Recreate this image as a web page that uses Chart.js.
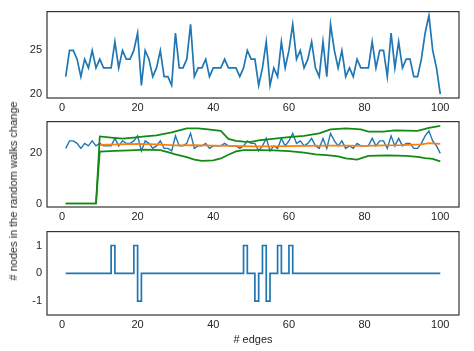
<!DOCTYPE html>
<html>
<head>
<meta charset="utf-8">
<script src="https://cdn.jsdelivr.net/npm/chart.js@4"></script>
<style>
  html, body { margin: 0; background: #fff; }
  #wrap { position: relative; width: 474px; height: 351px; overflow: hidden; font-family: "Liberation Sans", Arial, sans-serif; }
  .panel { position: absolute; left: 0; width: 474px; }
  #ylabel { position: absolute; left: 13px; top: 191px; transform: translate(-50%, -50%) rotate(-90deg);
            white-space: nowrap; font-size: 11px; color: #262626; }
</style>
</head>
<body>
<div id="wrap">
  <div class="panel" style="top:0;height:120px"><canvas id="walks"></canvas></div>
  <div class="panel" style="top:110px;height:120px"><canvas id="bands"></canvas></div>
  <div class="panel" style="top:220px;height:131px"><canvas id="changes"></canvas></div>
  <div id="ylabel"># nodes in the random walks change</div>
</div>
<script>
// x positions: edge index 1..100
const edges = Array.from({ length: 100 }, (_, i) => i + 1);
const xTicks = [0, 20, 40, 60, 80, 100];

// nodes in random walks, per edge
const walkSizes = [
  22, 25, 25, 24, 22, 24, 23, 25, 23, 24,
  23, 23, 23, 26, 23, 25, 24, 24, 25, 27,
  21, 25, 24, 22, 23, 25, 22, 22, 21, 27,
  23, 23, 24, 28, 22, 23, 23, 24, 22, 23,
  23, 23, 24, 23, 23, 23, 22, 23, 25, 24,
  24, 21, 23, 26, 21, 23, 22, 26, 23, 25,
  28, 24, 25, 23, 24, 26, 23, 22, 26, 22,
  28, 25, 23, 25, 22, 23, 22, 24, 23, 23,
  23, 26, 23, 25, 25, 22, 27, 23, 26, 23,
  24, 24, 22, 22, 24, 27, 29, 25, 23, 20
];

// running mean and bands, [edge, value]
const runningMean = [
  [10, 23.4], [15, 23.6], [20, 23.8], [25, 23.6], [30, 23.2], [35, 23.3], [40, 23.1],
  [45, 23.0], [50, 22.8], [55, 22.8], [60, 22.9], [65, 23.0], [70, 23.1], [75, 23.1],
  [80, 23.0], [85, 23.2], [90, 23.3], [95, 23.6], [97, 24.1], [100, 23.8]
];
const bandUpper = [
  [1, 0], [9, 0], [10, 26.8], [13, 26.3], [16, 25.9], [19, 26.3], [22, 26.8], [25, 27.2],
  [29, 28.4], [31, 29.2], [33, 30], [36, 30], [38, 29.7], [42, 29], [44, 25.8], [46, 25],
  [48, 24.7], [50, 24.6], [52, 25.2], [55, 25.7], [60, 26.5], [64, 27], [68, 28],
  [71, 29.6], [75, 30], [79, 29.6], [81, 28.7], [85, 28.7], [88, 29.2], [94, 29],
  [97, 30.2], [100, 31]
];
const bandLower = [
  [1, 0], [9, 0], [10, 20.7], [14, 21], [18, 21.2], [22, 21.5], [26, 21.3], [28, 20.5],
  [30, 19.6], [33, 18.5], [35, 17.5], [37, 17], [40, 17.2], [42, 18], [44, 19.5], [46, 20.8],
  [48, 21.3], [52, 21.3], [56, 21.2], [60, 20.9], [64, 20.3], [67, 19.6], [70, 19.3],
  [73, 18.8], [75, 18], [78, 17.5], [81, 19], [86, 19.2], [91, 19], [94, 18.6], [96, 18.1],
  [98, 17.8], [100, 16.8]
];

// outlier indicator per edge
const changes = [
  0, 0, 0, 0, 0, 0, 0, 0, 0, 0,
  0, 0, 0, 1, 0, 0, 0, 0, 0, 1,
  -1, 0, 0, 0, 0, 0, 0, 0, 0, 0,
  0, 0, 0, 0, 0, 0, 0, 0, 0, 0,
  0, 0, 0, 0, 0, 0, 0, 0, 1, 0,
  0, -1, 0, 1, -1, 0, 0, 1, 0, 0,
  1, 0, 0, 0, 0, 0, 0, 0, 0, 0,
  0, 0, 0, 0, 0, 0, 0, 0, 0, 0,
  0, 0, 0, 0, 0, 0, 0, 0, 0, 0,
  0, 0, 0, 0, 0, 0, 0, 0, 0, 0
];

const BLUE = '#1f77b4', ORANGE = '#ff7f0e', GREEN = '#138a13';
const TEXT = '#262626';
Chart.defaults.font.family = '"Liberation Sans", Arial, sans-serif';
Chart.defaults.font.size = 11;

const frame = {
  id: 'frame',
  afterDraw(chart) {
    const a = chart.chartArea, ctx = chart.ctx;
    ctx.save();
    ctx.strokeStyle = '#333';
    ctx.lineWidth = 1.2;
    ctx.strokeRect(a.left, a.top, a.right - a.left, a.bottom - a.top);
    ctx.restore();
  }
};

const toXY = rows => rows.map(r => ({ x: r[0], y: r[1] }));
const series = vals => vals.map((v, i) => ({ x: edges[i], y: v }));

function panelOptions(yMin, yMax, yTicks, padTop, xHeight, xTitle) {
  return {
    responsive: true,
    maintainAspectRatio: false,
    animation: false,
    layout: { padding: { top: padTop, right: 15, left: 0, bottom: 0 } },
    plugins: { legend: { display: false }, tooltip: { enabled: false } },
    elements: { point: { radius: 0 }, line: { borderWidth: 1.7, tension: 0 } },
    scales: {
      x: {
        type: 'linear', min: -3.95, max: 104.95,
        grid: { display: false, drawTicks: false }, border: { display: false },
        ticks: { padding: 3, color: TEXT, maxRotation: 0, autoSkip: false },
        afterBuildTicks: s => { s.ticks = xTicks.map(v => ({ value: v })); },
        afterFit: s => { s.height = xHeight; },
        title: xTitle
          ? { display: true, text: xTitle, color: TEXT, padding: { top: 0, bottom: 4 } }
          : { display: false }
      },
      y: {
        min: yMin, max: yMax,
        grid: { display: false, drawTicks: false }, border: { display: false },
        ticks: { padding: 5, color: TEXT },
        afterBuildTicks: s => { s.ticks = yTicks.map(v => ({ value: v })); },
        afterFit: s => { s.width = 47; }
      }
    }
  };
}

new Chart(document.getElementById('walks'), {
  type: 'line',
  data: { datasets: [{ data: series(walkSizes), borderColor: BLUE }] },
  options: panelOptions(19.55, 29.45, [20, 25], 9, 22),
  plugins: [frame]
});

new Chart(document.getElementById('bands'), {
  type: 'line',
  data: {
    datasets: [
      { data: toXY(bandUpper), borderColor: GREEN, order: 0 },
      { data: toXY(bandLower), borderColor: GREEN, order: 0 },
      { data: toXY(runningMean), borderColor: ORANGE, order: 1 },
      { data: series(walkSizes), borderColor: BLUE, order: 2, borderWidth: 1.4 }
    ]
  },
  options: panelOptions(-1.4, 32.7, [0, 20], 7, 23),
  plugins: [frame]
});

new Chart(document.getElementById('changes'), {
  type: 'line',
  data: { datasets: [{ data: series(changes), borderColor: BLUE, stepped: 'after' }] },
  options: panelOptions(-1.5, 1.5, [-1, 0, 1], 5, 36, '# edges'),
  plugins: [frame]
});
</script>
</body>
</html>
